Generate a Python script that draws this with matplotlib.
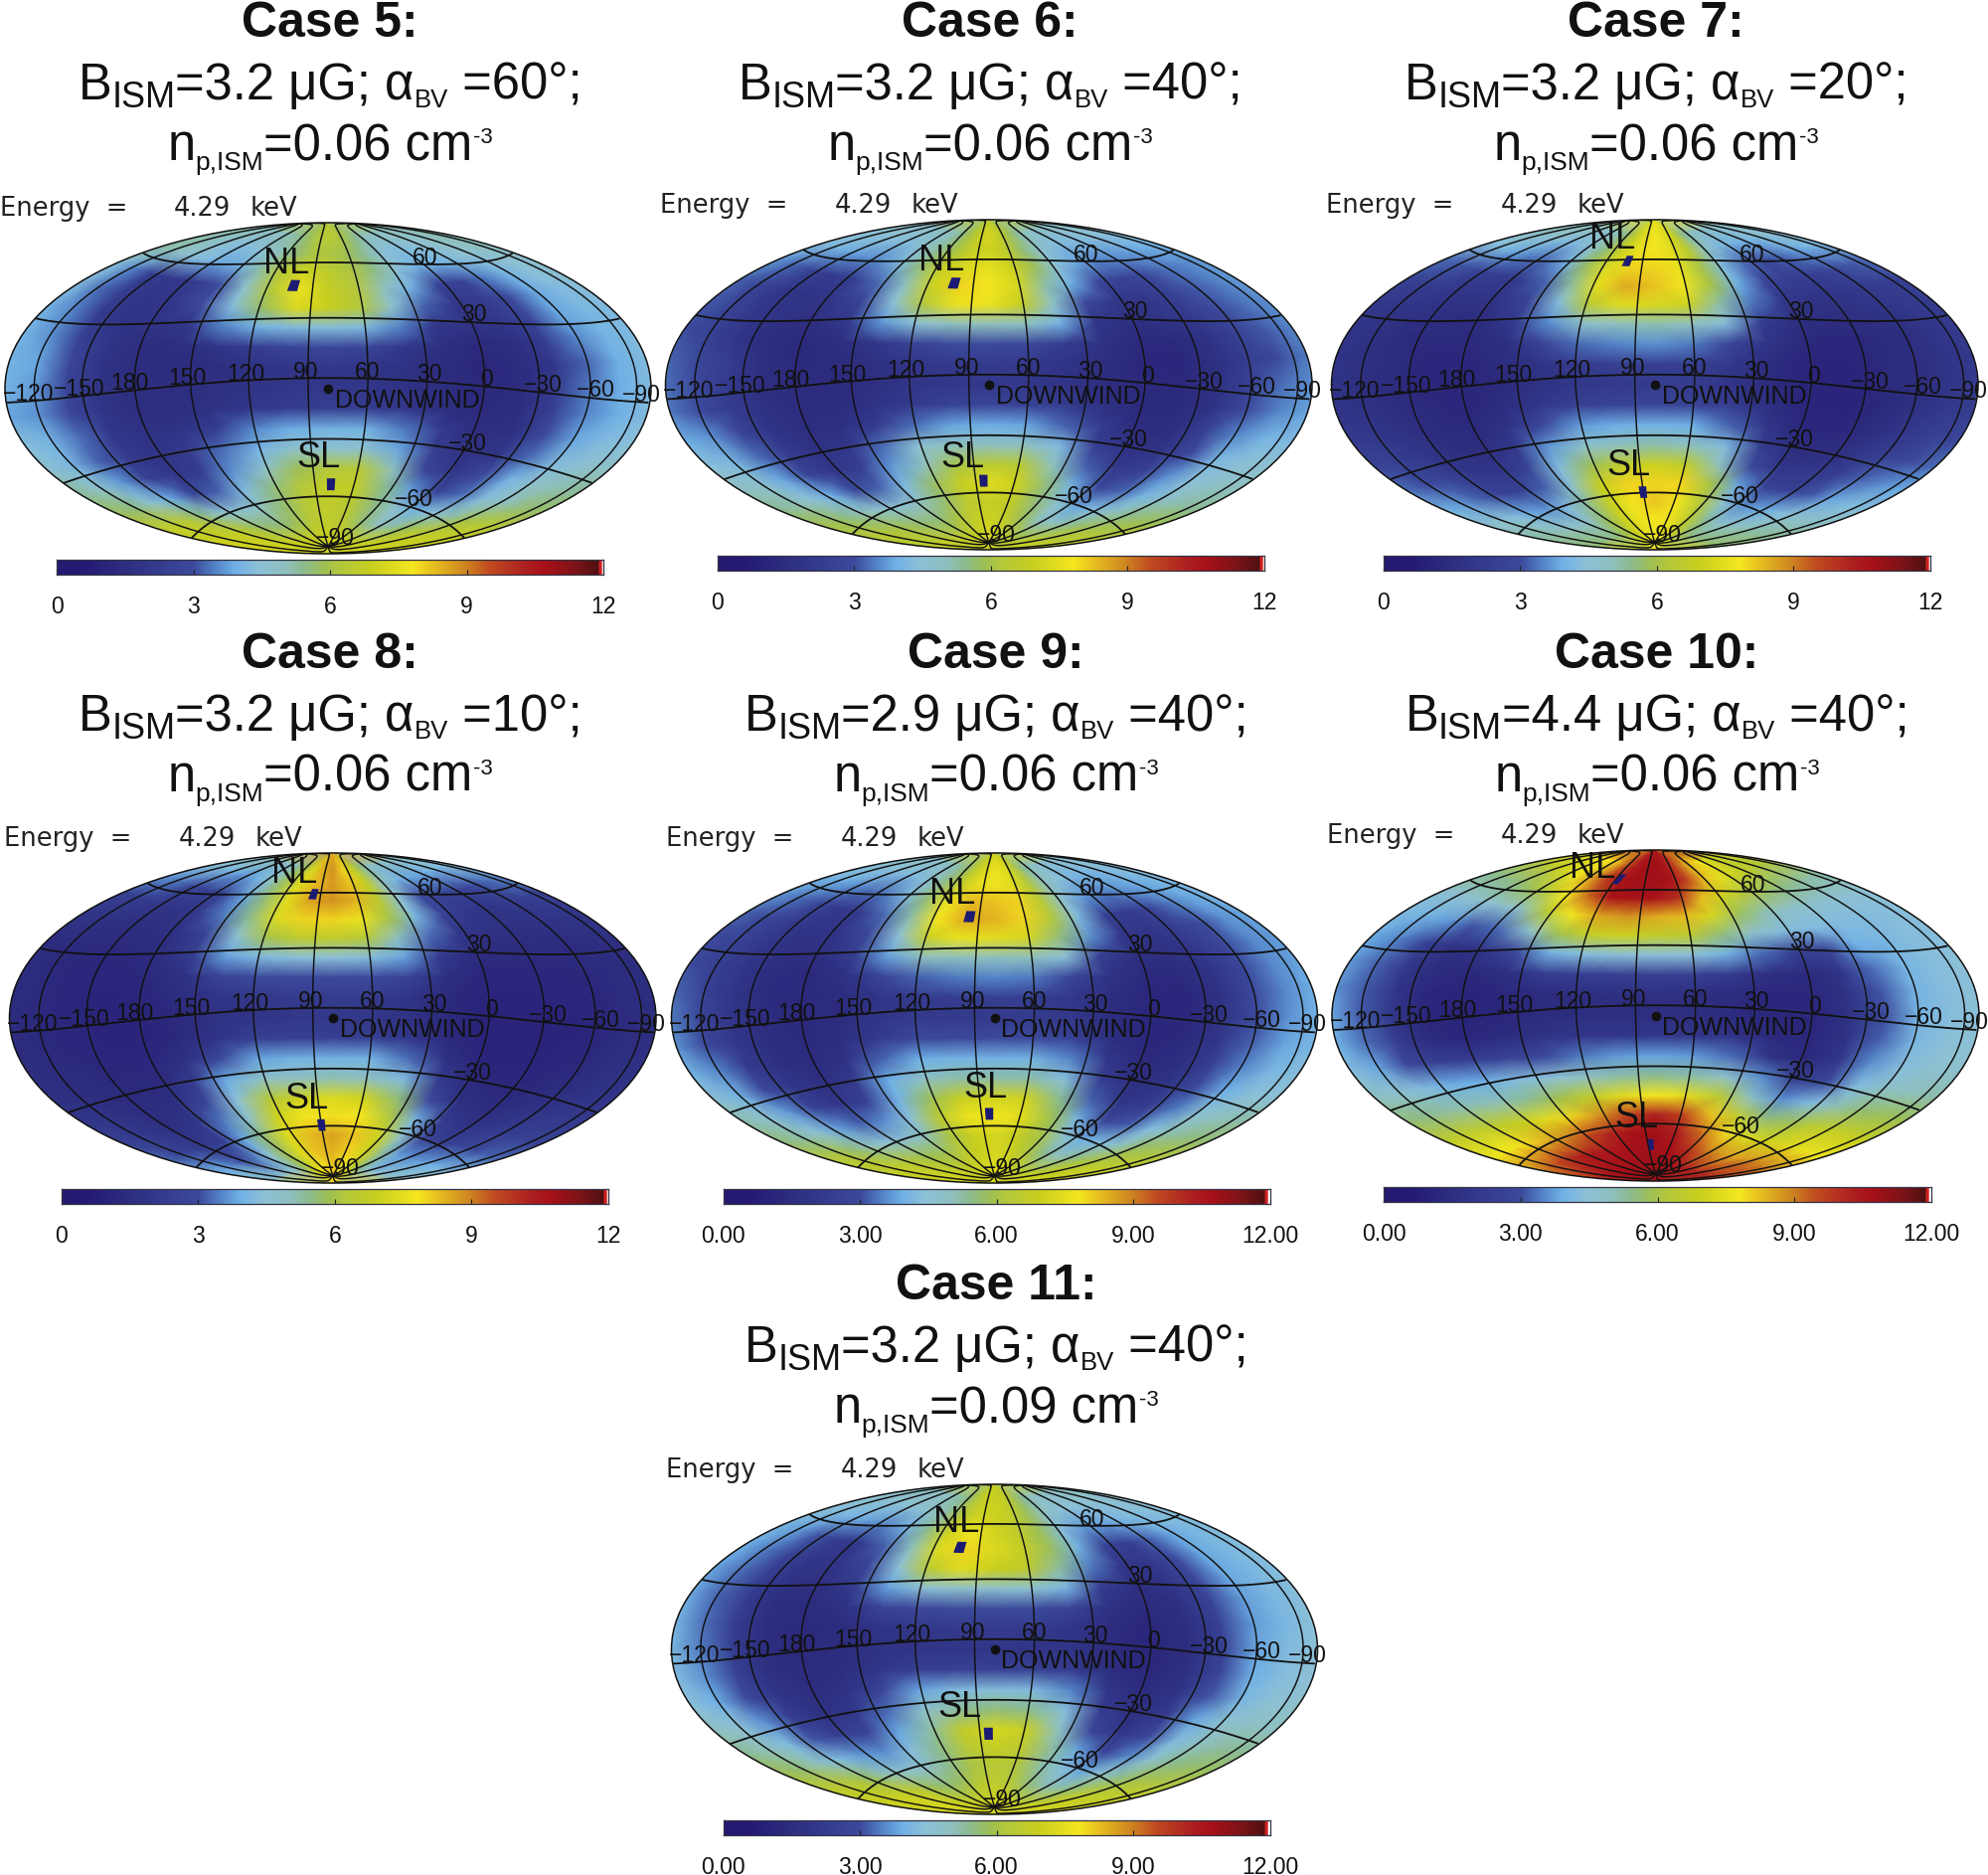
import numpy as np
import matplotlib
matplotlib.use("Agg")
import matplotlib.pyplot as plt
from matplotlib.colors import LinearSegmentedColormap
from matplotlib.font_manager import FontProperties

plt.rcParams["font.family"] = ["Liberation Sans", "DejaVu Sans"]

# Sky-map nodes: degrees from the downwind direction (left to right) and from the map centre (top to bottom)
MAP_LON = [-180, -160, -140, -120, -100, -80, -60, -40, -20, 0, 20, 40, 60, 80, 100, 120, 140, 160, 180]
MAP_LAT = [90, 80, 70, 60, 50, 40, 30, 20, 10, 0, -10, -20, -30, -40, -50, -60, -70, -80, -90]

# ENA flux at 4.29 keV on the nodes above, one table per simulation case
CASE_5 = [
    [6.2] * 19,
    [5.0, 5.0, 5.0, 5.0, 5.0, 5.2, 5.4, 5.8, 6.2, 6.4, 6.2, 5.8, 5.4, 5.0, 5.0, 5.0, 5.0, 5.0, 5.0],
    [5.2, 5.0, 4.6, 4.3, 4.3, 4.6, 5.0, 5.5, 6.0, 6.1, 5.9, 5.4, 4.6, 4.3, 4.3, 4.5, 4.8, 5.0, 5.2],
    [5.2, 5.0, 4.6, 4.2, 3.8, 4.0, 5.2, 6.3, 7.0, 6.5, 6.1, 5.5, 4.5, 4.0, 4.0, 4.2, 4.5, 4.8, 5.0],
    [4.4, 3.5, 2.3, 2.0, 2.2, 3.0, 4.7, 6.3, 7.6, 6.8, 6.2, 5.0, 4.0, 2.6, 2.5, 3.4, 4.0, 4.4, 4.6],
    [4.2, 3.3, 2.2, 1.9, 2.0, 3.0, 4.3, 5.8, 7.3, 6.9, 6.2, 4.6, 3.2, 2.0, 2.2, 3.0, 3.8, 4.2, 4.4],
    [4.0, 3.5, 2.3, 1.8, 1.8, 2.0, 3.5, 4.0, 4.2, 4.3, 4.2, 3.5, 2.0, 1.8, 2.0, 2.8, 3.8, 4.1, 4.2],
    [4.0, 3.6, 2.5, 1.8, 1.5, 1.5, 1.8, 2.3, 2.7, 2.8, 2.7, 2.0, 1.6, 1.3, 1.5, 2.3, 3.5, 4.0, 4.2],
    [4.0, 3.8, 2.8, 1.8, 1.4, 1.4, 1.5, 1.7, 1.9, 2.0, 1.9, 1.7, 1.4, 1.2, 1.4, 2.0, 3.2, 3.9, 4.2],
    [4.0, 3.7, 2.7, 1.8, 1.5, 1.5, 1.6, 1.8, 2.0, 2.0, 2.0, 1.7, 1.5, 1.3, 1.4, 2.2, 3.4, 3.9, 4.2],
    [3.8, 3.6, 2.8, 1.9, 1.5, 1.5, 1.7, 2.0, 2.3, 2.4, 2.3, 2.0, 1.5, 1.3, 1.5, 2.5, 3.5, 3.9, 4.2],
    [4.3, 4.0, 3.3, 2.0, 1.7, 1.8, 2.3, 3.5, 3.9, 4.0, 4.0, 3.4, 2.2, 1.5, 1.6, 3.0, 3.8, 4.2, 4.4],
    [4.6, 4.1, 3.2, 2.2, 1.8, 2.2, 3.3, 4.0, 4.8, 4.6, 4.7, 3.8, 2.3, 1.7, 2.0, 3.3, 4.2, 4.6, 4.9],
    [5.3, 4.7, 3.7, 2.6, 2.0, 2.3, 3.6, 4.7, 5.8, 6.2, 6.3, 5.0, 2.8, 2.0, 3.0, 4.0, 4.7, 5.1, 5.4],
    [5.8, 5.5, 4.6, 3.8, 2.8, 3.2, 4.2, 5.5, 6.2, 6.8, 6.6, 5.4, 3.7, 2.5, 3.3, 4.3, 5.0, 5.6, 5.8],
    [6.7, 6.6, 6.2, 5.5, 4.6, 4.5, 5.0, 5.6, 6.3, 6.6, 6.3, 5.5, 4.6, 4.0, 4.4, 5.2, 6.0, 6.4, 6.5],
    [7.0, 6.9, 6.8, 6.6, 6.0, 5.6, 5.5, 5.8, 6.3, 6.6, 6.3, 5.6, 5.0, 5.2, 5.8, 6.3, 6.7, 6.8, 6.8],
    [7.2, 7.1, 7.0, 7.0, 6.9, 6.8, 6.8, 6.8, 6.9, 7.0, 6.9, 6.8, 6.7, 6.7, 6.8, 6.9, 6.9, 7.0, 7.0],
    [7.0] * 19,
]
CASE_6 = [
    [6.5] * 19,
    [4.8, 4.8, 4.8, 4.8, 5.0, 5.0, 5.4, 6.0, 6.8, 7.2, 6.8, 6.0, 5.4, 5.0, 4.8, 4.8, 4.8, 4.8, 4.8],
    [4.5, 4.5, 4.4, 4.3, 4.3, 4.7, 5.3, 6.0, 6.8, 7.0, 6.6, 5.6, 4.8, 4.3, 4.2, 4.2, 4.3, 4.4, 4.5],
    [4.3, 4.1, 3.8, 3.6, 3.6, 4.2, 5.6, 6.8, 7.3, 7.5, 7.0, 5.8, 4.4, 3.8, 3.5, 3.6, 3.7, 3.9, 4.1],
    [3.7, 3.2, 2.6, 2.2, 2.4, 3.3, 5.0, 7.0, 8.0, 7.8, 7.2, 5.2, 3.9, 2.8, 2.6, 3.0, 3.3, 3.5, 3.7],
    [3.2, 2.6, 2.0, 1.8, 2.0, 2.8, 4.4, 6.2, 7.6, 7.6, 6.8, 4.8, 3.0, 2.0, 2.0, 2.5, 3.1, 3.4, 3.7],
    [3.1, 2.6, 2.0, 1.7, 1.6, 2.2, 3.7, 4.5, 5.0, 5.0, 5.0, 4.0, 2.0, 1.6, 1.8, 2.2, 2.9, 3.3, 3.6],
    [3.0, 2.5, 1.8, 1.4, 1.3, 1.5, 2.0, 2.6, 3.0, 3.0, 2.9, 2.3, 1.7, 1.3, 1.3, 1.7, 2.5, 3.1, 3.5],
    [3.2, 2.8, 2.2, 1.5, 1.3, 1.4, 1.6, 1.9, 2.1, 2.2, 2.1, 1.8, 1.5, 1.2, 1.2, 1.6, 2.3, 3.0, 3.4],
    [3.3, 2.9, 2.2, 1.6, 1.4, 1.4, 1.6, 1.9, 2.0, 2.0, 2.0, 1.8, 1.5, 1.3, 1.3, 1.7, 2.6, 3.3, 3.6],
    [3.4, 3.0, 2.3, 1.7, 1.4, 1.4, 1.7, 2.2, 2.6, 2.8, 2.6, 2.2, 1.6, 1.3, 1.3, 1.8, 3.0, 3.5, 3.8],
    [3.9, 3.6, 2.8, 1.8, 1.5, 1.6, 2.3, 3.3, 3.8, 3.9, 3.8, 3.2, 2.2, 1.4, 1.5, 2.5, 3.5, 4.0, 4.2],
    [4.4, 4.1, 3.3, 2.2, 1.7, 2.0, 3.3, 4.6, 5.0, 5.0, 5.0, 4.2, 2.4, 1.7, 1.9, 3.0, 4.1, 4.4, 4.6],
    [5.0, 4.6, 3.8, 2.7, 2.0, 2.4, 3.7, 5.0, 6.0, 6.5, 6.3, 5.0, 3.2, 2.1, 2.5, 3.6, 4.4, 4.8, 5.0],
    [5.4, 5.1, 4.4, 3.8, 3.0, 3.2, 4.2, 5.7, 6.8, 7.4, 7.0, 5.6, 4.0, 2.8, 3.2, 4.0, 4.7, 5.2, 5.4],
    [6.0, 5.8, 5.4, 5.0, 4.6, 4.5, 5.0, 5.6, 6.4, 6.8, 6.6, 5.6, 4.7, 3.8, 4.2, 5.0, 5.5, 5.8, 6.0],
    [6.3, 6.3, 6.1, 6.0, 5.7, 5.6, 5.6, 6.0, 6.6, 7.0, 6.6, 5.8, 5.0, 4.9, 5.3, 5.8, 6.1, 6.2, 6.3],
    [6.6, 6.6, 6.6, 6.5, 6.4, 6.4, 6.4, 6.6, 6.8, 7.2, 6.9, 6.4, 6.0, 6.0, 6.2, 6.4, 6.5, 6.6, 6.6],
    [7.0] * 19,
]
CASE_7 = [
    [7.5] * 19,
    [5.0, 5.0, 5.0, 4.9, 5.0, 5.1, 5.6, 6.6, 7.4, 7.7, 7.4, 6.6, 5.4, 5.0, 4.9, 4.8, 4.8, 4.8, 4.8],
    [4.9, 4.8, 4.5, 4.2, 4.2, 4.6, 5.5, 6.8, 7.6, 7.8, 7.4, 6.4, 5.0, 4.2, 4.0, 4.0, 4.2, 4.5, 4.7],
    [4.4, 4.2, 3.8, 3.4, 3.3, 4.0, 5.8, 7.3, 8.0, 8.0, 7.6, 6.0, 4.2, 3.3, 3.0, 3.2, 3.6, 4.0, 4.2],
    [3.3, 3.1, 2.7, 2.3, 2.3, 3.2, 5.3, 7.5, 8.5, 8.2, 7.7, 6.0, 3.9, 2.8, 2.4, 2.4, 2.8, 3.1, 3.3],
    [2.5, 2.3, 2.0, 1.8, 1.9, 2.7, 4.3, 6.5, 7.4, 7.2, 7.0, 5.2, 3.4, 2.1, 1.9, 1.9, 2.1, 2.3, 2.5],
    [2.1, 1.9, 1.7, 1.5, 1.5, 2.2, 3.6, 4.7, 5.0, 5.1, 5.0, 4.3, 2.3, 1.6, 1.5, 1.6, 1.8, 2.1, 2.3],
    [1.9, 1.7, 1.4, 1.3, 1.3, 1.6, 2.7, 3.3, 3.5, 3.6, 3.4, 2.7, 1.8, 1.3, 1.2, 1.3, 1.5, 1.9, 2.2],
    [1.8, 1.6, 1.4, 1.2, 1.2, 1.4, 1.8, 2.2, 2.4, 2.4, 2.4, 2.0, 1.4, 1.1, 1.1, 1.3, 1.5, 1.8, 2.1],
    [1.8, 1.6, 1.4, 1.2, 1.2, 1.3, 1.7, 2.0, 2.1, 2.2, 2.2, 1.9, 1.4, 1.1, 1.1, 1.3, 1.5, 1.9, 2.2],
    [1.9, 1.7, 1.5, 1.3, 1.2, 1.4, 2.0, 2.5, 2.7, 2.8, 2.7, 2.2, 1.5, 1.1, 1.1, 1.3, 1.7, 2.1, 2.4],
    [2.2, 2.0, 1.7, 1.4, 1.3, 1.7, 3.0, 3.7, 3.9, 4.0, 3.9, 3.2, 1.9, 1.2, 1.2, 1.5, 2.0, 2.5, 2.9],
    [2.7, 2.4, 2.0, 1.6, 1.5, 2.1, 3.7, 4.7, 5.0, 5.2, 5.0, 4.2, 2.3, 1.5, 1.5, 1.9, 2.5, 3.0, 3.3],
    [3.3, 3.0, 2.6, 2.0, 1.9, 2.6, 4.2, 5.8, 6.6, 7.0, 6.6, 5.0, 3.0, 1.9, 2.0, 2.4, 3.2, 3.6, 3.9],
    [4.0, 3.7, 3.2, 2.7, 2.5, 3.2, 4.6, 6.8, 8.0, 8.0, 8.0, 6.0, 3.8, 2.6, 2.5, 3.1, 3.8, 4.2, 4.3],
    [4.7, 4.6, 4.3, 3.8, 3.6, 4.2, 5.3, 6.8, 7.8, 8.2, 7.7, 6.2, 4.6, 3.6, 3.8, 4.2, 4.6, 4.8, 5.0],
    [5.2, 5.2, 5.0, 4.8, 4.7, 5.0, 5.7, 6.8, 7.6, 7.8, 7.6, 6.5, 5.4, 4.6, 4.8, 5.0, 5.2, 5.3, 5.4],
    [5.6, 5.6, 5.6, 5.5, 5.5, 5.6, 6.0, 6.8, 7.4, 7.7, 7.4, 6.6, 5.8, 5.5, 5.5, 5.6, 5.6, 5.7, 5.7],
    [7.5] * 19,
]
CASE_8 = [
    [8.5] * 19,
    [5.0, 5.0, 5.0, 4.9, 5.0, 5.2, 5.8, 7.2, 8.4, 8.8, 8.0, 6.8, 5.6, 5.0, 4.9, 4.9, 4.8, 4.8, 4.8],
    [4.5, 4.3, 4.0, 3.7, 3.9, 4.5, 5.8, 7.3, 8.3, 8.7, 8.2, 6.8, 5.0, 4.1, 3.8, 3.8, 4.0, 4.2, 4.4],
    [3.7, 3.4, 2.9, 2.5, 2.7, 3.8, 5.6, 7.4, 8.6, 8.8, 8.4, 6.5, 4.4, 3.0, 2.6, 2.6, 2.9, 3.3, 3.6],
    [2.6, 2.3, 2.0, 1.8, 2.1, 3.4, 5.4, 7.3, 8.0, 8.0, 7.6, 6.0, 4.1, 2.6, 2.0, 1.9, 2.1, 2.4, 2.6],
    [1.9, 1.7, 1.5, 1.5, 1.7, 2.7, 4.6, 6.0, 6.6, 6.6, 6.3, 5.0, 3.3, 2.0, 1.7, 1.6, 1.7, 1.8, 1.9],
    [1.5, 1.4, 1.3, 1.3, 1.5, 2.3, 3.8, 4.2, 4.4, 4.4, 4.3, 3.8, 2.2, 1.5, 1.4, 1.4, 1.4, 1.5, 1.6],
    [1.4, 1.3, 1.2, 1.2, 1.3, 1.7, 2.7, 3.0, 3.0, 3.0, 3.0, 2.6, 1.6, 1.2, 1.2, 1.2, 1.3, 1.4, 1.5],
    [1.4, 1.3, 1.2, 1.1, 1.2, 1.4, 1.9, 2.1, 2.2, 2.2, 2.2, 1.8, 1.3, 1.1, 1.1, 1.2, 1.2, 1.4, 1.5],
    [1.4, 1.3, 1.2, 1.1, 1.1, 1.3, 1.7, 1.9, 2.0, 2.0, 2.0, 1.7, 1.3, 1.0, 1.0, 1.1, 1.2, 1.4, 1.5],
    [1.4, 1.3, 1.2, 1.1, 1.1, 1.3, 1.8, 2.4, 2.5, 2.5, 2.5, 2.0, 1.3, 1.0, 1.0, 1.1, 1.2, 1.5, 1.6],
    [1.5, 1.4, 1.3, 1.2, 1.2, 1.6, 3.0, 3.8, 4.0, 4.0, 4.0, 3.3, 1.7, 1.1, 1.1, 1.2, 1.3, 1.6, 1.7],
    [1.7, 1.5, 1.4, 1.3, 1.4, 2.2, 3.9, 4.9, 5.0, 5.1, 5.0, 4.2, 2.2, 1.3, 1.2, 1.3, 1.5, 1.8, 1.9],
    [2.0, 1.8, 1.6, 1.4, 1.6, 2.8, 4.4, 6.2, 7.0, 7.3, 7.0, 5.6, 3.0, 1.6, 1.4, 1.6, 1.9, 2.1, 2.2],
    [2.5, 2.2, 1.9, 1.6, 2.0, 3.4, 4.8, 7.0, 7.8, 7.9, 7.8, 6.2, 4.0, 2.2, 1.7, 2.0, 2.3, 2.5, 2.6],
    [3.2, 2.8, 2.4, 2.1, 2.5, 3.8, 5.6, 7.3, 8.3, 8.6, 8.2, 7.0, 4.8, 3.0, 2.3, 2.7, 3.0, 3.2, 3.3],
    [4.0, 3.8, 3.4, 3.0, 3.4, 4.4, 5.8, 7.3, 8.2, 8.4, 8.0, 7.0, 5.3, 3.8, 3.6, 3.7, 3.9, 4.1, 4.2],
    [4.8, 4.8, 4.6, 4.4, 4.6, 5.0, 5.8, 7.0, 7.8, 8.2, 7.6, 6.6, 5.4, 4.6, 4.4, 4.5, 4.7, 4.8, 4.9],
    [8.0] * 19,
]
CASE_9 = [
    [7.0] * 19,
    [4.8, 4.8, 4.8, 4.8, 5.0, 5.2, 5.6, 6.4, 7.2, 7.6, 7.4, 6.4, 5.4, 5.0, 4.8, 4.6, 4.6, 4.6, 4.7],
    [4.5, 4.4, 4.3, 4.2, 4.2, 4.6, 5.5, 6.6, 7.5, 7.7, 7.4, 6.2, 5.0, 4.4, 4.1, 4.0, 4.1, 4.3, 4.4],
    [4.1, 3.9, 3.6, 3.3, 3.4, 4.2, 5.6, 7.6, 8.3, 8.2, 8.0, 6.4, 4.6, 3.7, 3.4, 3.6, 3.8, 4.0, 4.2],
    [3.7, 3.3, 2.8, 2.1, 2.2, 3.3, 5.2, 7.8, 8.5, 8.4, 8.0, 6.3, 4.2, 2.6, 2.2, 2.8, 3.4, 3.8, 4.0],
    [3.2, 2.8, 2.2, 1.8, 1.9, 2.9, 4.5, 7.0, 7.6, 7.4, 7.2, 5.6, 3.6, 2.0, 1.9, 2.4, 3.0, 3.6, 3.8],
    [3.0, 2.6, 2.0, 1.6, 1.6, 2.4, 3.8, 5.0, 5.0, 5.0, 5.0, 4.4, 2.4, 1.6, 1.6, 2.1, 2.9, 3.5, 3.7],
    [3.0, 2.4, 1.8, 1.4, 1.3, 1.7, 2.8, 3.2, 3.4, 3.5, 3.4, 2.8, 1.8, 1.3, 1.3, 1.8, 2.8, 3.5, 3.8],
    [3.2, 2.5, 1.8, 1.3, 1.3, 1.4, 1.9, 2.2, 2.3, 2.4, 2.3, 2.0, 1.5, 1.2, 1.2, 1.7, 2.9, 3.5, 3.9],
    [3.4, 2.7, 1.9, 1.4, 1.3, 1.4, 1.9, 2.2, 2.1, 2.1, 2.2, 2.0, 1.5, 1.2, 1.2, 1.8, 3.0, 3.6, 4.0],
    [3.6, 2.9, 2.0, 1.5, 1.3, 1.5, 2.2, 2.9, 3.0, 3.0, 3.0, 2.5, 1.5, 1.2, 1.3, 2.0, 3.2, 3.8, 4.1],
    [4.0, 3.5, 2.3, 1.6, 1.4, 1.7, 3.2, 3.9, 4.0, 4.0, 4.0, 3.5, 2.0, 1.3, 1.5, 2.4, 3.5, 4.1, 4.3],
    [4.6, 4.0, 3.0, 2.0, 1.6, 2.2, 3.9, 4.9, 5.2, 5.2, 5.2, 4.3, 2.4, 1.5, 1.8, 3.0, 3.9, 4.4, 4.6],
    [5.2, 4.6, 3.7, 2.6, 2.0, 2.6, 4.0, 5.8, 6.9, 7.1, 7.0, 5.4, 3.2, 1.9, 2.2, 3.4, 4.5, 5.0, 5.3],
    [5.6, 5.2, 4.5, 3.7, 3.2, 3.6, 4.4, 6.4, 7.6, 7.8, 7.4, 5.9, 4.0, 2.8, 3.1, 4.2, 5.1, 5.5, 5.7],
    [6.3, 6.1, 5.6, 5.0, 4.5, 4.6, 5.1, 6.0, 6.9, 7.2, 6.8, 6.0, 4.9, 3.9, 4.2, 5.0, 5.8, 6.1, 6.3],
    [6.6, 6.6, 6.4, 6.2, 6.0, 5.9, 5.9, 6.3, 6.9, 7.2, 6.9, 6.1, 5.4, 5.0, 5.4, 6.0, 6.4, 6.6, 6.7],
    [7.0, 7.0, 7.0, 6.9, 6.8, 6.7, 6.7, 6.9, 7.1, 7.4, 7.1, 6.7, 6.4, 6.2, 6.4, 6.7, 6.9, 7.0, 7.0],
    [7.2] * 19,
]
CASE_10 = [
    [10.5] * 19,
    [7.4, 7.5, 7.6, 7.8, 8.0, 8.5, 9.4, 10.3, 10.7, 10.8, 10.5, 9.6, 8.8, 8.2, 7.8, 7.2, 7.0, 6.8, 6.8],
    [6.4, 6.5, 6.8, 7.2, 7.7, 8.6, 9.8, 10.6, 10.8, 10.8, 10.6, 9.5, 8.2, 7.5, 7.0, 6.6, 6.3, 6.2, 6.2],
    [5.4, 5.4, 5.5, 5.8, 6.4, 7.8, 9.2, 10.6, 10.7, 10.6, 10.0, 8.3, 7.0, 6.2, 5.8, 5.5, 5.3, 5.2, 5.2],
    [4.7, 4.6, 4.6, 4.6, 4.9, 6.3, 7.8, 8.6, 8.8, 8.5, 8.3, 7.2, 5.8, 5.1, 4.7, 4.6, 4.5, 4.5, 4.5],
    [4.2, 4.0, 3.7, 3.1, 3.3, 4.7, 6.0, 6.8, 7.0, 6.6, 6.5, 5.6, 4.7, 4.3, 4.2, 4.2, 4.2, 4.3, 4.3],
    [3.9, 3.5, 2.6, 1.7, 1.9, 3.0, 4.0, 4.3, 4.4, 4.4, 4.4, 4.0, 3.3, 2.5, 2.8, 3.9, 4.1, 4.3, 4.3],
    [3.7, 3.2, 2.0, 1.4, 1.3, 1.6, 2.3, 2.4, 2.4, 2.4, 2.4, 2.2, 1.6, 1.4, 1.9, 3.3, 4.0, 4.3, 4.4],
    [3.6, 3.1, 1.9, 1.2, 1.1, 1.2, 1.4, 1.5, 1.6, 1.6, 1.6, 1.4, 1.2, 1.2, 1.7, 3.1, 4.0, 4.3, 4.4],
    [3.8, 3.1, 1.9, 1.2, 1.1, 1.2, 1.4, 1.5, 1.5, 1.5, 1.5, 1.4, 1.2, 1.2, 1.7, 3.0, 4.0, 4.3, 4.4],
    [3.9, 3.3, 2.2, 1.4, 1.2, 1.4, 1.7, 2.0, 2.0, 2.0, 2.0, 1.8, 1.3, 1.2, 1.7, 3.2, 4.1, 4.4, 4.5],
    [4.3, 3.8, 2.9, 2.4, 2.4, 2.7, 3.0, 3.4, 3.7, 3.8, 3.7, 3.3, 1.9, 1.3, 2.0, 3.6, 4.3, 4.6, 4.7],
    [4.9, 4.6, 4.2, 3.9, 3.9, 4.2, 4.4, 4.9, 5.2, 5.4, 5.2, 4.8, 3.6, 2.2, 3.0, 4.2, 4.8, 5.0, 5.2],
    [5.6, 5.4, 5.2, 5.1, 5.1, 5.4, 5.9, 6.6, 7.4, 7.8, 7.4, 6.4, 4.8, 3.6, 4.2, 5.1, 5.6, 5.8, 5.9],
    [6.6, 6.6, 6.6, 6.6, 6.8, 7.4, 8.0, 8.8, 9.6, 10.3, 9.6, 8.2, 6.6, 5.6, 5.8, 6.4, 6.7, 6.8, 6.9],
    [7.6, 7.7, 7.8, 8.0, 8.4, 8.9, 9.5, 10.2, 10.7, 10.8, 10.3, 9.2, 8.0, 7.3, 7.0, 7.2, 7.5, 7.6, 7.7],
    [9.0, 9.2, 9.5, 10.0, 10.2, 10.4, 10.5, 10.6, 10.8, 10.8, 10.6, 10.0, 9.2, 8.8, 8.5, 8.7, 9.0, 9.0, 9.0],
    [10.0, 10.2, 10.4, 10.6, 10.7, 10.7, 10.7, 10.8, 10.8, 10.9, 10.8, 10.6, 10.3, 10.2, 10.0, 10.0, 10.0, 10.0, 10.0],
    [10.8] * 19,
]
CASE_11 = [
    [6.8] * 19,
    [5.0, 5.0, 5.0, 5.0, 5.0, 5.2, 5.5, 6.2, 6.8, 7.0, 6.8, 6.0, 5.4, 5.0, 4.9, 4.9, 4.9, 4.9, 4.9],
    [4.7, 4.6, 4.5, 4.5, 4.5, 4.7, 5.2, 6.2, 7.0, 7.0, 6.6, 5.8, 4.9, 4.5, 4.4, 4.4, 4.5, 4.6, 4.7],
    [4.4, 4.2, 4.0, 3.7, 3.5, 4.0, 5.4, 7.0, 7.7, 7.1, 6.6, 5.8, 4.3, 3.7, 3.7, 4.0, 4.2, 4.3, 4.4],
    [4.1, 3.7, 3.1, 2.3, 2.1, 3.2, 5.0, 7.3, 8.0, 7.3, 6.8, 5.8, 4.0, 2.6, 2.3, 3.2, 3.8, 4.1, 4.2],
    [3.9, 3.4, 2.6, 1.9, 1.9, 2.8, 4.4, 6.5, 7.4, 6.9, 6.5, 5.3, 3.4, 2.0, 2.0, 3.0, 3.8, 4.1, 4.3],
    [3.8, 3.3, 2.4, 1.7, 1.6, 2.3, 3.8, 4.5, 4.7, 4.6, 4.6, 4.1, 2.3, 1.6, 1.8, 2.9, 3.8, 4.1, 4.3],
    [3.8, 3.2, 2.2, 1.5, 1.4, 1.7, 2.7, 2.9, 3.0, 3.0, 3.0, 2.6, 1.7, 1.3, 1.6, 2.6, 3.7, 4.1, 4.3],
    [4.0, 3.3, 2.2, 1.4, 1.3, 1.4, 1.8, 2.0, 2.1, 2.2, 2.1, 1.9, 1.4, 1.2, 1.5, 2.5, 3.7, 4.1, 4.4],
    [4.1, 3.4, 2.3, 1.5, 1.3, 1.4, 1.7, 1.9, 1.9, 1.9, 1.9, 1.8, 1.4, 1.2, 1.5, 2.5, 3.8, 4.2, 4.4],
    [4.2, 3.6, 2.5, 1.6, 1.4, 1.5, 1.9, 2.4, 2.5, 2.5, 2.5, 2.2, 1.5, 1.2, 1.6, 2.7, 3.9, 4.3, 4.5],
    [4.4, 3.9, 3.0, 1.9, 1.5, 1.7, 2.8, 3.8, 4.2, 4.3, 4.2, 3.5, 1.9, 1.4, 1.8, 3.1, 4.1, 4.5, 4.7],
    [5.0, 4.5, 3.6, 2.3, 1.7, 2.1, 3.3, 4.7, 5.3, 5.6, 5.4, 4.3, 2.3, 1.6, 2.2, 3.8, 4.6, 4.9, 5.0],
    [5.4, 5.0, 4.2, 3.1, 2.4, 2.8, 3.8, 5.2, 6.6, 7.2, 6.8, 4.9, 2.9, 1.9, 2.9, 4.2, 5.0, 5.3, 5.4],
    [5.9, 5.6, 5.0, 4.2, 3.7, 3.6, 4.3, 5.4, 6.3, 6.8, 6.4, 5.3, 3.8, 2.6, 3.5, 4.6, 5.4, 5.7, 5.9],
    [6.5, 6.4, 6.1, 5.6, 5.0, 4.6, 4.8, 5.4, 6.0, 6.4, 6.1, 5.2, 4.3, 3.8, 4.6, 5.4, 6.0, 6.2, 6.4],
    [6.9, 6.9, 6.8, 6.6, 6.3, 5.8, 5.6, 5.8, 6.3, 6.6, 6.2, 5.6, 5.1, 5.1, 5.6, 6.2, 6.6, 6.7, 6.8],
    [7.2, 7.2, 7.2, 7.2, 7.0, 6.8, 6.6, 6.6, 6.8, 7.0, 6.8, 6.6, 6.4, 6.4, 6.6, 6.9, 7.0, 7.1, 7.2],
    [7.2] * 19,
]

CASE_NAMES = ["Case 5:", "Case 6:", "Case 7:", "Case 8:", "Case 9:", "Case 10:", "Case 11:"]
B_ISM = ["3.2", "3.2", "3.2", "3.2", "2.9", "4.4", "3.2"]
ALPHA_BV = ["60", "40", "20", "10", "40", "40", "40"]
N_ISM = ["0.06", "0.06", "0.06", "0.06", "0.06", "0.06", "0.09"]
FLUX_TABLES = [CASE_5, CASE_6, CASE_7, CASE_8, CASE_9, CASE_10, CASE_11]
COLORBAR_LABELS = [["0", "3", "6", "9", "12"]] * 4 + [["0.00", "3.00", "6.00", "9.00", "12.00"]] * 3
COLORBAR_TICKS = [0, 3, 6, 9, 12]

# Ribbon-lobe pixels in map degrees: (lon, lat)
NL_CELL = [(-25, 51.8), (-25, 51.4), (-26, 63.8), (-18.5, 64), (-18, 51.4), (-45, 70.5), (-25, 51.6)]
SL_CELL = [(2, -48.5), (-3.6, -48.6), (-9, -54.8), (-8.6, -54.6), (-3.6, -48.5), (-4.6, -66.9), (-3.8, -42.4)]

# Graticule in ecliptic degrees and the map centre (heliotail direction)
MERIDIANS = list(range(0, 360, 30))
PARALLELS = [-60, -30, 0, 30, 60]
CENTER_LON = 80.0
CENTER_LAT = -5.0
LON_LABELS = ["\u2212120", "\u2212150", "180", "150", "120", "90", "60", "30", "0", "\u221230", "\u221260", "\u221290"]
LAT_LABELS = ["60", "30", "\u221230", "\u221260", "\u221290"]

# Page layout, in pixels of the 2000x1886 sheet
FIG_W, FIG_H = 2000, 1886
ELLIPSE_BOX = [(5, 224, 655, 557), (669.5, 221, 1320, 553), (1339.5, 221, 1990, 553),
               (9.5, 858, 660, 1190), (675.5, 858, 1325.5, 1190), (1340, 855, 1991, 1188),
               (675.5, 1493, 1325.5, 1825)]
TITLE_X = [332, 996, 1666, 332, 1002, 1667, 1002]
TITLE_Y = [37, 37, 37, 672, 672, 672, 1307]
NL_TEXT = [(.435, .874), (.427, .874), (.435, .942), (.441, .938), (.435, .875), (.403, .945), (.441, .883)]
SL_TEXT = [(.485, .291), (.460, .279), (.459, .256), (.460, .254), (.486, .287), (.470, .191), (.446, .325)]
RIM_VALUE = [4.6, 4.2, 3.4, 2.6, 4.2, 5.0, 4.5]
LON_TEXT_AT = [(67, 650), (185, 635), (303, 617), (435, 602), (571, 588), (711, 582),
               (854, 582), (996, 590), (1130, 605), (1260, 623), (1382, 638), (1488, 652)]
LAT_TEXT_AT = [(988, 238), (1100, 410), (1085, 798), (960, 968), (780, 1085)]

STOPS = [(0, "#241a70"), (0.6, "#251a74"), (1.5, "#2e2e80"), (3.0, "#3c4a9c"), (3.5, "#5585c8"), (3.9, "#6fb0e6"),
         (4.4, "#8cc0d8"), (5.0, "#8fc0c0"), (5.4, "#8cbb90"), (5.9, "#a0c050"), (6.2, "#b4c83c"), (6.9, "#c8cf20"),
         (7.8, "#f5e71f"), (8.1, "#eccb20"), (8.9, "#d08a20"), (9.5, "#c04a20"), (10.3, "#ac1f20"), (10.7, "#a81018"),
         (11.4, "#7a1418"), (11.88, "#4f1010"), (11.89, "#d02020"), (11.95, "#d02020"), (11.96, "#ffffff"), (12, "#ffffff")]
flux_cmap = LinearSegmentedColormap.from_list("ena", [(v / 12, c) for v, c in STOPS], N=1200)

fig = plt.figure(figsize=(FIG_W / 100, FIG_H / 100), dpi=100)
renderer = fig.canvas.get_renderer()


def ecliptic_to_map(lon_deg, lat_deg):
    """Rotate ecliptic coordinates into the frame centred on the heliotail (radians)."""
    delta = np.radians(CENTER_LON - np.asarray(lon_deg, dtype=float))
    lat = np.radians(np.asarray(lat_deg, dtype=float))
    tilt = np.radians(CENTER_LAT)
    x = np.cos(lat) * np.cos(delta)
    y = np.cos(lat) * np.sin(delta)
    z = np.sin(lat)
    xr = x * np.cos(tilt) + z * np.sin(tilt)
    zr = -x * np.sin(tilt) + z * np.cos(tilt)
    return np.arctan2(y, xr), np.arcsin(np.clip(zr, -1, 1))


def break_at_seam(lam, phi):
    """Insert gaps where a curve jumps across the map's back seam."""
    jumps = np.where(np.abs(np.diff(lam)) > np.pi)[0] + 1
    return np.insert(lam, jumps, np.nan), np.insert(phi, jumps, np.nan)


def box_axes(x0, y0, x1, y1, **kw):
    return fig.add_axes([x0 / FIG_W, 1 - y1 / FIG_H, (x1 - x0) / FIG_W, (y1 - y0) / FIG_H], **kw)


def frac(zx, zy):
    """Fractional axes position from ellipse-relative layout units."""
    return 0.5 + (zx - 762) / 1498, 0.5 + (631 - zy) / 998


def heading_runs(cx, base_y, runs):
    """Set one centred heading line from (text, point size, baseline shift in px) runs."""
    widths = []
    for text, size, _ in runs:
        prop = FontProperties(family="Liberation Sans", size=size)
        widths.append(renderer.get_text_width_height_descent(text.replace(" ", "\u00a0"), prop, False)[0])
    x = cx - sum(widths) / 2
    for (text, size, shift), w in zip(runs, widths):
        fig.text(x / FIG_W, 1 - (base_y + shift) / FIG_H, text.replace(" ", "\u00a0"), family="Liberation Sans",
                 fontsize=size, ha="left", va="baseline", color="#111111")
        x += w


for i, box in enumerate(ELLIPSE_BOX):
    x0, y0, x1, y1 = box
    ax = box_axes(x0, y0, x1, y1, projection="hammer")
    ax.set_aspect("auto")
    ax.grid(False)
    ax.set_xticklabels([])
    ax.set_yticklabels([])
    ax.xaxis.set_ticks_position("none")
    ax.yaxis.set_ticks_position("none")
    ax.set_facecolor(flux_cmap(RIM_VALUE[i] / 12))

    lon_grid, lat_grid = np.meshgrid(np.radians(MAP_LON), np.radians(MAP_LAT))
    ax.pcolormesh(lon_grid, lat_grid, np.array(FLUX_TABLES[i]), cmap=flux_cmap, vmin=0, vmax=12,
                  shading="gouraud", rasterized=True)

    # Graticule
    for lon in MERIDIANS:
        lam, phi = ecliptic_to_map(np.full(181, lon), np.linspace(-90, 90, 181))
        ax.plot(*break_at_seam(lam, phi), color="#111111", lw=1.05, solid_capstyle="butt")
    for lat in PARALLELS:
        lam, phi = ecliptic_to_map(np.linspace(0, 360, 361), np.full(361, lat))
        ax.plot(*break_at_seam(lam, phi), color="#111111", lw=1.3, solid_capstyle="butt")

    for s, (zx, zy) in list(zip(LON_LABELS, LON_TEXT_AT)) + list(zip(LAT_LABELS, LAT_TEXT_AT)):
        fx, fy = frac(zx, zy)
        ax.text(fx, fy, s, transform=ax.transAxes, ha="center", va="center", fontsize=16.5,
                color="#111111", clip_on=False)

    # Ribbon-lobe pixels and their labels
    lon_c, lat_c = NL_CELL[i]
    ax.fill(np.radians([lon_c - 3.5, lon_c + 3.5, lon_c + 3.5, lon_c - 3.5]),
            np.radians([lat_c - 3, lat_c - 3, lat_c + 3, lat_c + 3]), color="#1c1a72", lw=0, zorder=4)
    lon_c, lat_c = SL_CELL[i]
    ax.fill(np.radians([lon_c - 2.75, lon_c + 2.75, lon_c + 2.75, lon_c - 2.75]),
            np.radians([lat_c - 3.2, lat_c - 3.2, lat_c + 3.2, lat_c + 3.2]), color="#1c1a72", lw=0, zorder=4)
    ax.text(*NL_TEXT[i], "NL", transform=ax.transAxes, ha="center", va="center", fontsize=26,
            color="#111111", clip_on=False, zorder=5)
    ax.text(*SL_TEXT[i], "SL", transform=ax.transAxes, ha="center", va="center", fontsize=26,
            color="#111111", clip_on=False, zorder=5)

    # Downwind marker at the map centre
    ax.plot([0], [0], "o", color="#111111", ms=7, mew=0, zorder=5)
    fx, fy = frac(778, 667)
    ax.text(fx, fy, "DOWNWIND", transform=ax.transAxes, ha="left", va="center", fontsize=18,
            color="#111111", clip_on=False, zorder=5)
    for spine in ax.spines.values():
        spine.set_linewidth(1.1)
        spine.set_edgecolor("#111111")

    # Energy caption
    for dx, part in ((0, "Energy  ="), (175, "4.29"), (252, "keV")):
        fig.text((x0 - 5 + dx) / FIG_W, 1 - (y0 - 14) / FIG_H, part, family="DejaVu Sans",
                 fontsize=18.5, ha="left", va="center", color="#222222")

    # Headings
    cx = TITLE_X[i]
    by = TITLE_Y[i]
    fig.text(cx / FIG_W, 1 - by / FIG_H, CASE_NAMES[i], fontsize=36, fontweight="bold", ha="center",
             va="baseline", color="#111111", family="Liberation Sans")
    heading_runs(cx, by + 63, [("B", 36.5, 0), ("ISM", 26, 8), ("=" + B_ISM[i] + " \u03bcG; \u03b1", 36.5, 0),
                               ("BV", 18.5, 8), (" =" + ALPHA_BV[i] + "\u00b0;", 36.5, 0)])
    heading_runs(cx, by + 124, [("n", 36.5, 0), ("p,ISM", 19, 10), ("=" + N_ISM[i] + " cm", 36.5, 0),
                                ("-3", 16, -17)])

    # Colour bar under the map
    cax = box_axes(x0 + 52, y1 + 6, x1 - 48, y1 + 21)
    cax.imshow(np.linspace(0, 12, 1200)[None, :], extent=[0, 12, 0, 1], aspect="auto", cmap=flux_cmap,
               vmin=0, vmax=12, interpolation="bilinear")
    cax.set_yticks([])
    cax.set_xticks(COLORBAR_TICKS)
    cax.set_xticklabels(COLORBAR_LABELS[i], fontsize=16.5, color="#111111")
    cax.tick_params(axis="x", direction="in", length=3.5, width=0.8, pad=15, color="#222222")
    for spine in cax.spines.values():
        spine.set_linewidth(0.9)
        spine.set_edgecolor("#333344")

fig.savefig("out.png", dpi=100, facecolor="white")
